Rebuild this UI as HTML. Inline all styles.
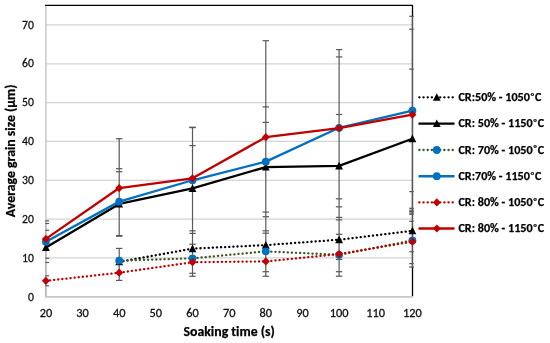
<!DOCTYPE html>
<html><head><meta charset="utf-8"><style>
text{stroke-linejoin:round;font-variant-ligatures:none;font-feature-settings:'liga' 0,'clig' 0}
html,body{margin:0;padding:0;background:#fff;width:550px;height:343px;overflow:hidden}
.ax{font-family:Carlito,"Liberation Sans",sans-serif;font-size:13px;fill:#111;stroke:#111;stroke-width:0.3px}
.tt{font-family:Carlito,"Liberation Sans",sans-serif;font-size:13.8px;font-weight:bold;fill:#000;stroke:#000;stroke-width:0.25px}
.dg{font-family:"DejaVu Sans",sans-serif;font-size:9.5px}
.lg{font-family:Carlito,"Liberation Sans",sans-serif;font-size:12.2px;font-weight:bold;fill:#000;stroke:#000;stroke-width:0.25px}
</style></head><body>
<svg width="550" height="343" viewBox="0 0 550 343" style="position:absolute;left:0;top:0">
<line x1="45.5" x2="412.5" y1="257.96" y2="257.96" stroke="#d4d4d4" stroke-width="1.25"/>
<line x1="45.5" x2="412.5" y1="219.12" y2="219.12" stroke="#d4d4d4" stroke-width="1.25"/>
<line x1="45.5" x2="412.5" y1="180.28" y2="180.28" stroke="#d4d4d4" stroke-width="1.25"/>
<line x1="45.5" x2="412.5" y1="141.44" y2="141.44" stroke="#d4d4d4" stroke-width="1.25"/>
<line x1="45.5" x2="412.5" y1="102.60" y2="102.60" stroke="#d4d4d4" stroke-width="1.25"/>
<line x1="45.5" x2="412.5" y1="63.76" y2="63.76" stroke="#d4d4d4" stroke-width="1.25"/>
<line x1="45.5" x2="412.5" y1="24.92" y2="24.92" stroke="#d4d4d4" stroke-width="1.25"/>
<path d="M45.1 5.4H412.5V296.5" fill="none" stroke="#000" stroke-width="1.3"/>
<line x1="45.9" x2="45.9" y1="6.1" y2="297.6" stroke="#cfcfcf" stroke-width="1.7"/>
<line x1="45" x2="413" y1="296.8" y2="296.8" stroke="#c8c8c8" stroke-width="1.7"/>
<g stroke="#595959" stroke-width="1.2" fill="none">
<line x1="45.90" x2="45.90" y1="220.80" y2="296.00" stroke="#ababab" stroke-width="1"/>
<line x1="45.30" x2="49.10" y1="220.80" y2="220.80"/>
<line x1="45.30" x2="49.10" y1="223.50" y2="223.50"/>
<line x1="45.30" x2="49.10" y1="230.30" y2="230.30"/>
<line x1="45.30" x2="49.10" y1="258.20" y2="258.20"/>
<line x1="45.30" x2="49.10" y1="262.50" y2="262.50"/>
<line x1="45.30" x2="49.10" y1="275.80" y2="275.80"/>
<line x1="45.30" x2="49.10" y1="285.80" y2="285.80"/>
<line x1="119.20" x2="119.20" y1="138.70" y2="235.80"/>
<line x1="116.00" x2="122.40" y1="138.70" y2="138.70"/>
<line x1="116.00" x2="122.40" y1="168.70" y2="168.70"/>
<line x1="116.00" x2="122.40" y1="171.70" y2="171.70"/>
<line x1="116.00" x2="122.40" y1="235.60" y2="235.60"/>
<line x1="116.00" x2="122.40" y1="236.20" y2="236.20"/>
<line x1="119.20" x2="119.20" y1="248.40" y2="280.40"/>
<line x1="116.00" x2="122.40" y1="248.40" y2="248.40"/>
<line x1="116.00" x2="122.40" y1="280.40" y2="280.40"/>
<line x1="192.50" x2="192.50" y1="127.30" y2="276.30"/>
<line x1="189.30" x2="195.70" y1="127.20" y2="127.20"/>
<line x1="189.30" x2="195.70" y1="127.60" y2="127.60"/>
<line x1="189.30" x2="195.70" y1="145.60" y2="145.60"/>
<line x1="189.30" x2="195.70" y1="230.80" y2="230.80"/>
<line x1="189.30" x2="195.70" y1="233.40" y2="233.40"/>
<line x1="189.30" x2="195.70" y1="244.20" y2="244.20"/>
<line x1="189.30" x2="195.70" y1="273.30" y2="273.30"/>
<line x1="189.30" x2="195.70" y1="276.30" y2="276.30"/>
<line x1="265.80" x2="265.80" y1="40.70" y2="276.30"/>
<line x1="262.60" x2="269.00" y1="40.70" y2="40.70"/>
<line x1="262.60" x2="269.00" y1="106.90" y2="106.90"/>
<line x1="262.60" x2="269.00" y1="122.40" y2="122.40"/>
<line x1="262.60" x2="269.00" y1="212.10" y2="212.10"/>
<line x1="262.60" x2="269.00" y1="216.70" y2="216.70"/>
<line x1="262.60" x2="269.00" y1="230.80" y2="230.80"/>
<line x1="262.60" x2="269.00" y1="233.20" y2="233.20"/>
<line x1="262.60" x2="269.00" y1="271.70" y2="271.70"/>
<line x1="262.60" x2="269.00" y1="276.30" y2="276.30"/>
<line x1="339.10" x2="339.10" y1="49.60" y2="276.20"/>
<line x1="335.90" x2="342.30" y1="49.60" y2="49.60"/>
<line x1="335.90" x2="342.30" y1="56.90" y2="56.90"/>
<line x1="335.90" x2="342.30" y1="114.50" y2="114.50"/>
<line x1="335.90" x2="342.30" y1="198.80" y2="198.80"/>
<line x1="335.90" x2="342.30" y1="206.80" y2="206.80"/>
<line x1="335.90" x2="342.30" y1="217.40" y2="217.40"/>
<line x1="335.90" x2="342.30" y1="219.90" y2="219.90"/>
<line x1="335.90" x2="342.30" y1="234.30" y2="234.30"/>
<line x1="335.90" x2="342.30" y1="259.40" y2="259.40"/>
<line x1="335.90" x2="342.30" y1="271.70" y2="271.70"/>
<line x1="335.90" x2="342.30" y1="276.20" y2="276.20"/>
<line x1="412.40" x2="412.40" y1="16.00" y2="267.10"/>
<line x1="409.20" x2="413.80" y1="16.30" y2="16.30"/>
<line x1="409.20" x2="413.80" y1="29.20" y2="29.20"/>
<line x1="409.20" x2="413.80" y1="69.10" y2="69.10"/>
<line x1="409.20" x2="413.80" y1="191.60" y2="191.60"/>
<line x1="409.20" x2="413.80" y1="208.30" y2="208.30"/>
<line x1="409.20" x2="413.80" y1="210.20" y2="210.20"/>
<line x1="409.20" x2="413.80" y1="211.60" y2="211.60"/>
<line x1="409.20" x2="413.80" y1="213.00" y2="213.00"/>
<line x1="409.20" x2="413.80" y1="214.30" y2="214.30"/>
<line x1="409.20" x2="413.80" y1="221.30" y2="221.30"/>
<line x1="409.20" x2="413.80" y1="251.70" y2="251.70"/>
<line x1="409.20" x2="413.80" y1="263.60" y2="263.60"/>
<line x1="409.20" x2="413.80" y1="267.10" y2="267.10"/>
</g>
<path d="M119.20 261.83L192.50 248.63L265.80 245.13L339.10 239.69L412.40 230.76" fill="none" stroke="#000000" stroke-linejoin="round" stroke-dasharray="0.15 3.97" stroke-linecap="round" stroke-width="2.3"/>
<path d="M119.20 257.73L123.10 265.33L115.30 265.33Z" fill="#000000"/>
<path d="M192.50 244.53L196.40 252.13L188.60 252.13Z" fill="#000000"/>
<path d="M265.80 241.03L269.70 248.63L261.90 248.63Z" fill="#000000"/>
<path d="M339.10 235.59L343.00 243.19L335.20 243.19Z" fill="#000000"/>
<path d="M412.40 226.66L416.30 234.26L408.50 234.26Z" fill="#000000"/>
<path d="M45.90 247.46L119.20 203.96L192.50 188.42L265.80 167.06L339.10 165.90L412.40 138.71" fill="none" stroke="#000000" stroke-linejoin="round" stroke-width="2.3"/>
<path d="M45.90 243.36L49.80 250.96L42.00 250.96Z" fill="#000000"/>
<path d="M119.20 199.86L123.10 207.46L115.30 207.46Z" fill="#000000"/>
<path d="M192.50 184.32L196.40 191.92L188.60 191.92Z" fill="#000000"/>
<path d="M265.80 162.96L269.70 170.56L261.90 170.56Z" fill="#000000"/>
<path d="M339.10 161.80L343.00 169.40L335.20 169.40Z" fill="#000000"/>
<path d="M412.40 134.61L416.30 142.21L408.50 142.21Z" fill="#000000"/>
<path d="M119.20 260.67L192.50 258.34L265.80 251.35L339.10 254.84L412.40 240.47" fill="none" stroke="#385723" stroke-linejoin="round" stroke-dasharray="0.15 3.97" stroke-linecap="round" stroke-width="2.3"/>
<circle cx="119.20" cy="260.67" r="3.9" fill="#0070C0"/>
<circle cx="192.50" cy="258.34" r="3.9" fill="#0070C0"/>
<circle cx="265.80" cy="251.35" r="3.9" fill="#0070C0"/>
<circle cx="339.10" cy="254.84" r="3.9" fill="#0070C0"/>
<circle cx="412.40" cy="240.47" r="3.9" fill="#0070C0"/>
<path d="M45.90 241.64L119.20 201.63L192.50 180.27L265.80 161.63L339.10 127.83L412.40 110.74" fill="none" stroke="#0070C0" stroke-linejoin="round" stroke-width="2.3"/>
<circle cx="45.90" cy="241.64" r="3.9" fill="#0070C0"/>
<circle cx="119.20" cy="201.63" r="3.9" fill="#0070C0"/>
<circle cx="192.50" cy="180.27" r="3.9" fill="#0070C0"/>
<circle cx="265.80" cy="161.63" r="3.9" fill="#0070C0"/>
<circle cx="339.10" cy="127.83" r="3.9" fill="#0070C0"/>
<circle cx="412.40" cy="110.74" r="3.9" fill="#0070C0"/>
<path d="M45.90 280.86L119.20 272.71L192.50 262.22L265.80 261.44L339.10 254.06L412.40 241.64" fill="none" stroke="#C00000" stroke-linejoin="round" stroke-dasharray="0.15 3.97" stroke-linecap="round" stroke-width="2.3"/>
<path d="M45.90 276.76L49.90 280.86L45.90 284.96L41.90 280.86Z" fill="#C00000"/>
<path d="M119.20 268.61L123.20 272.71L119.20 276.81L115.20 272.71Z" fill="#C00000"/>
<path d="M192.50 258.12L196.50 262.22L192.50 266.32L188.50 262.22Z" fill="#C00000"/>
<path d="M265.80 257.34L269.80 261.44L265.80 265.54L261.80 261.44Z" fill="#C00000"/>
<path d="M339.10 249.96L343.10 254.06L339.10 258.16L335.10 254.06Z" fill="#C00000"/>
<path d="M412.40 237.54L416.40 241.64L412.40 245.74L408.40 241.64Z" fill="#C00000"/>
<path d="M45.90 238.92L119.20 188.04L192.50 178.33L265.80 137.16L339.10 128.22L412.40 114.63" fill="none" stroke="#C00000" stroke-linejoin="round" stroke-width="2.3"/>
<path d="M45.90 234.82L49.90 238.92L45.90 243.02L41.90 238.92Z" fill="#C00000"/>
<path d="M119.20 183.94L123.20 188.04L119.20 192.14L115.20 188.04Z" fill="#C00000"/>
<path d="M192.50 174.23L196.50 178.33L192.50 182.43L188.50 178.33Z" fill="#C00000"/>
<path d="M265.80 133.06L269.80 137.16L265.80 141.26L261.80 137.16Z" fill="#C00000"/>
<path d="M339.10 124.12L343.10 128.22L339.10 132.32L335.10 128.22Z" fill="#C00000"/>
<path d="M412.40 110.53L416.40 114.63L412.40 118.73L408.40 114.63Z" fill="#C00000"/>
<line x1="419.3" x2="454.5" y1="97.3" y2="97.3" stroke="#000000" stroke-dasharray="0.15 4.02" stroke-linecap="round" stroke-width="2.3"/>
<path d="M436.80 93.20L440.70 100.80L432.90 100.80Z" fill="#000000"/>
<text textLength="83.08" lengthAdjust="spacingAndGlyphs" x="458.4" y="101.0" class="lg">CR:50% - 1050<tspan class="dg" dy="-1.3">°</tspan><tspan dx="0.4" dy="1.3">C</tspan></text>
<line x1="418.5" x2="454.5" y1="123.6" y2="123.6" stroke="#000000" stroke-width="2.4"/>
<path d="M436.80 119.50L440.70 127.10L432.90 127.10Z" fill="#000000"/>
<text textLength="85.83" lengthAdjust="spacingAndGlyphs" x="458.4" y="127.3" class="lg">CR: 50% - 1150<tspan class="dg" dy="-1.3">°</tspan><tspan dx="0.4" dy="1.3">C</tspan></text>
<line x1="419.3" x2="454.5" y1="150.0" y2="150.0" stroke="#385723" stroke-dasharray="0.15 4.02" stroke-linecap="round" stroke-width="2.3"/>
<circle cx="436.80" cy="150.00" r="3.9" fill="#0070C0"/>
<text textLength="85.83" lengthAdjust="spacingAndGlyphs" x="458.4" y="153.7" class="lg">CR: 70% - 1050<tspan class="dg" dy="-1.3">°</tspan><tspan dx="0.4" dy="1.3">C</tspan></text>
<line x1="418.5" x2="454.5" y1="176.2" y2="176.2" stroke="#0070C0" stroke-width="2.4"/>
<circle cx="436.80" cy="176.20" r="3.9" fill="#0070C0"/>
<text textLength="83.08" lengthAdjust="spacingAndGlyphs" x="458.4" y="179.9" class="lg">CR:70% - 1150<tspan class="dg" dy="-1.3">°</tspan><tspan dx="0.4" dy="1.3">C</tspan></text>
<line x1="419.3" x2="454.5" y1="202.4" y2="202.4" stroke="#C00000" stroke-dasharray="0.15 4.02" stroke-linecap="round" stroke-width="2.3"/>
<path d="M436.80 198.30L440.80 202.40L436.80 206.50L432.80 202.40Z" fill="#C00000"/>
<text textLength="85.83" lengthAdjust="spacingAndGlyphs" x="458.4" y="206.1" class="lg">CR: 80% - 1050<tspan class="dg" dy="-1.3">°</tspan><tspan dx="0.4" dy="1.3">C</tspan></text>
<line x1="418.5" x2="454.5" y1="228.5" y2="228.5" stroke="#C00000" stroke-width="2.4"/>
<path d="M436.80 224.40L440.80 228.50L436.80 232.60L432.80 228.50Z" fill="#C00000"/>
<text textLength="85.83" lengthAdjust="spacingAndGlyphs" x="458.4" y="232.2" class="lg">CR: 80% - 1150<tspan class="dg" dy="-1.3">°</tspan><tspan dx="0.4" dy="1.3">C</tspan></text>
<text textLength="6.59" lengthAdjust="spacingAndGlyphs" transform="translate(33.9,300.50) scale(0.9,0.98)" class="ax" text-anchor="end">0</text>
<text textLength="13.17" lengthAdjust="spacingAndGlyphs" transform="translate(33.9,261.66) scale(0.9,0.98)" class="ax" text-anchor="end">10</text>
<text textLength="13.17" lengthAdjust="spacingAndGlyphs" transform="translate(33.9,222.82) scale(0.9,0.98)" class="ax" text-anchor="end">20</text>
<text textLength="13.17" lengthAdjust="spacingAndGlyphs" transform="translate(33.9,183.98) scale(0.9,0.98)" class="ax" text-anchor="end">30</text>
<text textLength="13.17" lengthAdjust="spacingAndGlyphs" transform="translate(33.9,145.14) scale(0.9,0.98)" class="ax" text-anchor="end">40</text>
<text textLength="13.17" lengthAdjust="spacingAndGlyphs" transform="translate(33.9,106.30) scale(0.9,0.98)" class="ax" text-anchor="end">50</text>
<text textLength="13.17" lengthAdjust="spacingAndGlyphs" transform="translate(33.9,67.46) scale(0.9,0.98)" class="ax" text-anchor="end">60</text>
<text textLength="13.17" lengthAdjust="spacingAndGlyphs" transform="translate(33.9,28.62) scale(0.9,0.98)" class="ax" text-anchor="end">70</text>
<text textLength="13.17" lengthAdjust="spacingAndGlyphs" transform="translate(45.90,316.9) scale(0.95,1)" class="ax" text-anchor="middle">20</text>
<text textLength="13.17" lengthAdjust="spacingAndGlyphs" transform="translate(82.55,316.9) scale(0.95,1)" class="ax" text-anchor="middle">30</text>
<text textLength="13.17" lengthAdjust="spacingAndGlyphs" transform="translate(119.20,316.9) scale(0.95,1)" class="ax" text-anchor="middle">40</text>
<text textLength="13.17" lengthAdjust="spacingAndGlyphs" transform="translate(155.85,316.9) scale(0.95,1)" class="ax" text-anchor="middle">50</text>
<text textLength="13.17" lengthAdjust="spacingAndGlyphs" transform="translate(192.50,316.9) scale(0.95,1)" class="ax" text-anchor="middle">60</text>
<text textLength="13.17" lengthAdjust="spacingAndGlyphs" transform="translate(229.15,316.9) scale(0.95,1)" class="ax" text-anchor="middle">70</text>
<text textLength="13.17" lengthAdjust="spacingAndGlyphs" transform="translate(265.80,316.9) scale(0.95,1)" class="ax" text-anchor="middle">80</text>
<text textLength="13.17" lengthAdjust="spacingAndGlyphs" transform="translate(302.45,316.9) scale(0.95,1)" class="ax" text-anchor="middle">90</text>
<text textLength="19.74" lengthAdjust="spacingAndGlyphs" transform="translate(339.10,316.9) scale(0.95,1)" class="ax" text-anchor="middle">100</text>
<text textLength="19.74" lengthAdjust="spacingAndGlyphs" transform="translate(375.75,316.9) scale(0.95,1)" class="ax" text-anchor="middle">110</text>
<text textLength="19.74" lengthAdjust="spacingAndGlyphs" transform="translate(412.40,316.9) scale(0.95,1)" class="ax" text-anchor="middle">120</text>
<text textLength="91.39" lengthAdjust="spacingAndGlyphs" x="229.2" y="336" class="tt" text-anchor="middle">Soaking time (s)</text>
<text textLength="132.89" lengthAdjust="spacingAndGlyphs" transform="translate(14.5,150.8) rotate(-90)" class="tt" text-anchor="middle">Average grain size (µm)</text>
</svg>
</body></html>
